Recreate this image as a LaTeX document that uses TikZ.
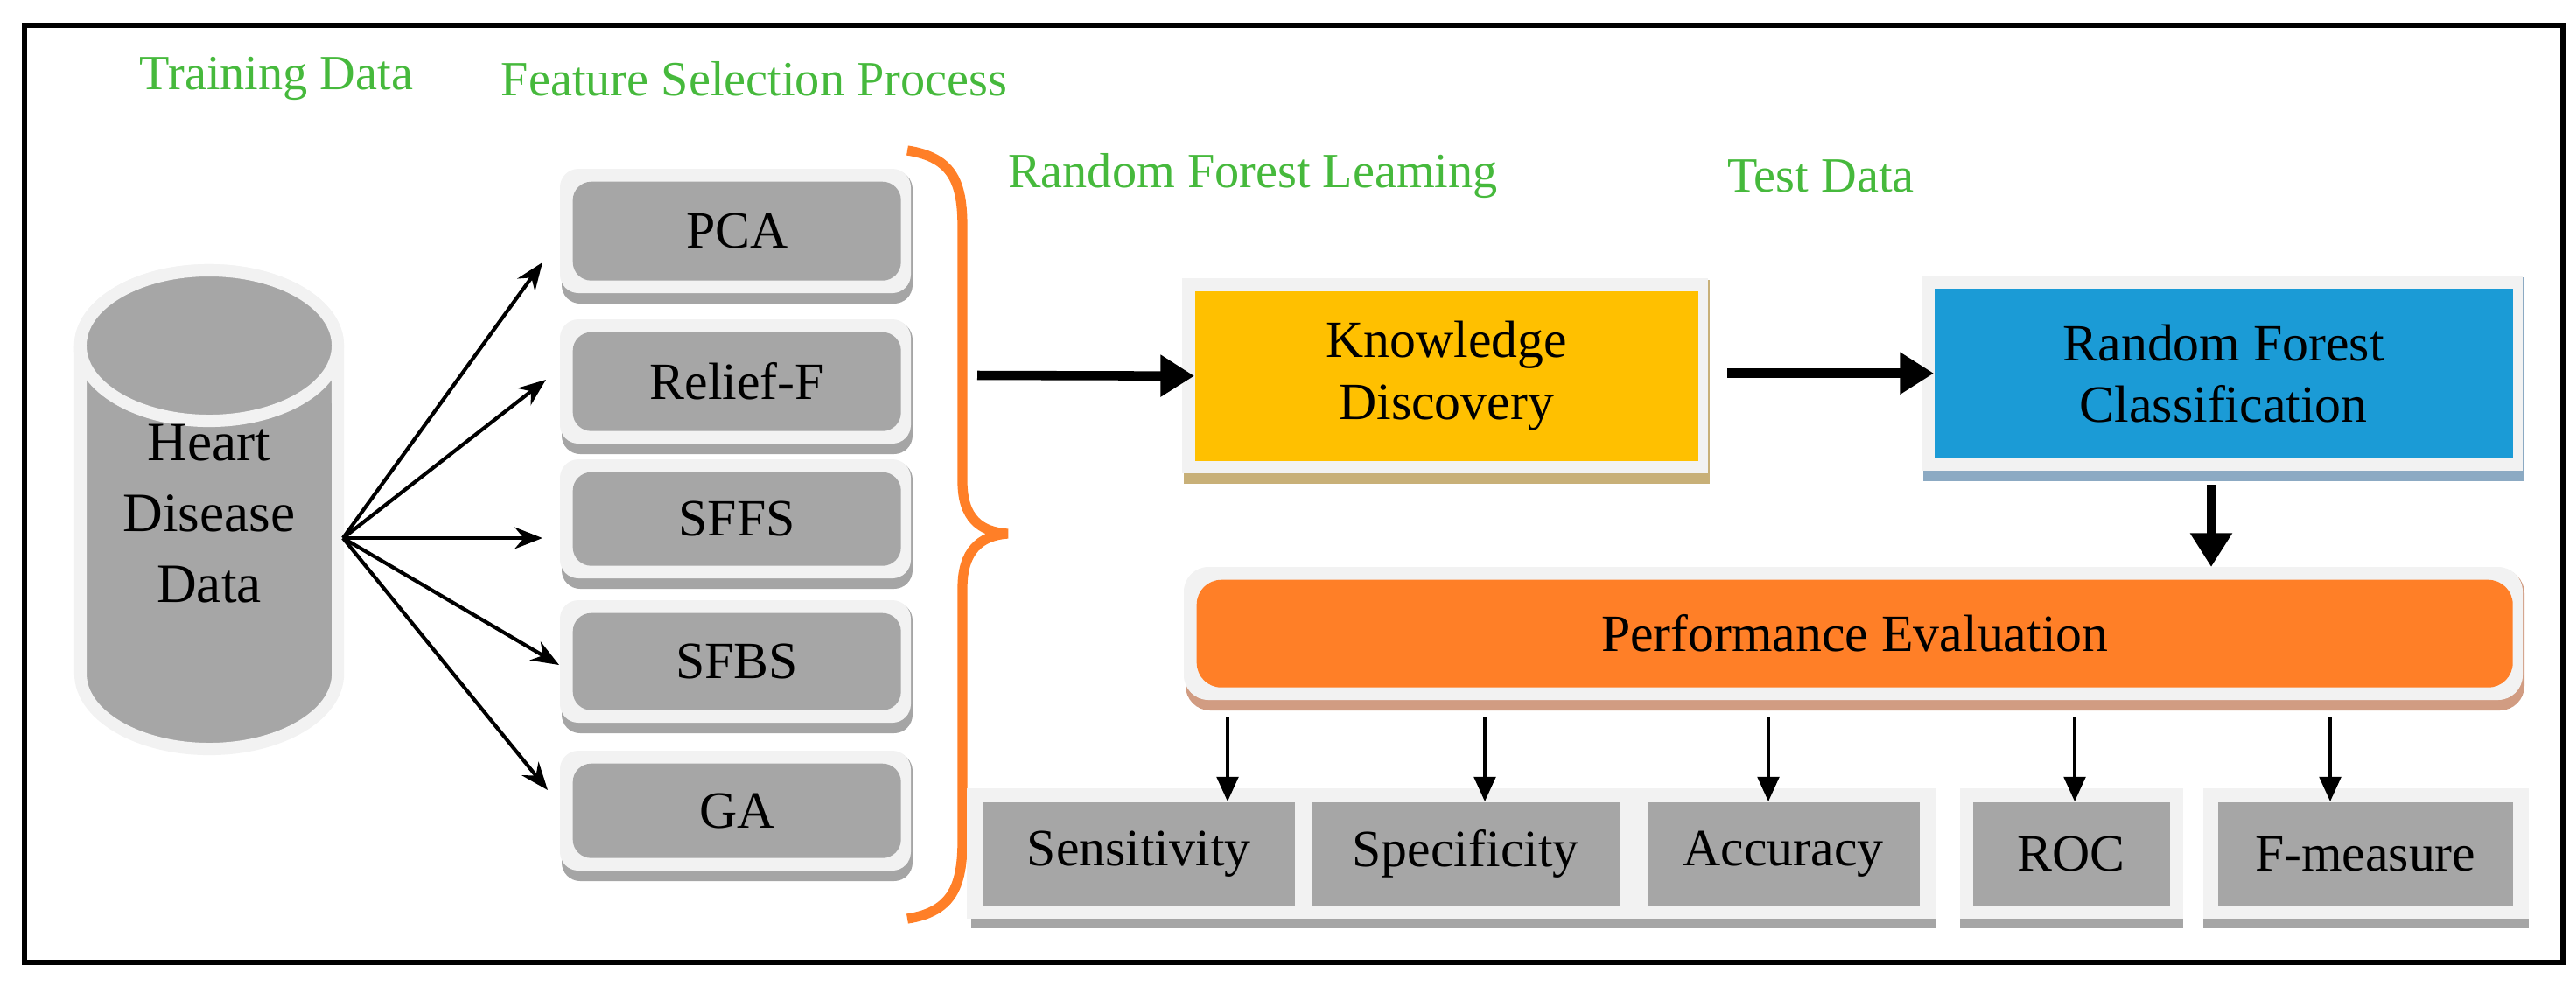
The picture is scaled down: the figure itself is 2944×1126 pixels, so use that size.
\documentclass[tikz,border=0pt]{standalone}
\usepackage{fontspec}
\setmainfont{Liberation Serif}
\usetikzlibrary{arrows.meta}
\definecolor{lbl}{RGB}{70,185,60}
\definecolor{boxg}{RGB}{166,166,166}
\definecolor{rim}{RGB}{242,242,242}
\definecolor{shg}{RGB}{165,165,165}
\definecolor{kdy}{RGB}{255,192,0}
\definecolor{kdsh}{RGB}{200,176,120}
\definecolor{rfb}{RGB}{27,155,214}
\definecolor{rfsh}{RGB}{140,170,195}
\definecolor{peo}{RGB}{255,127,39}
\definecolor{pesh}{RGB}{209,156,130}
\definecolor{brc}{RGB}{255,127,39}
\tikzset{
  lab/.style={text=lbl,font=\fontsize{16}{19}\selectfont,inner sep=0pt},
  txt/.style={font=\fontsize{17}{20}\selectfont,align=center,inner sep=0pt},
  thin arr/.style={-{Stealth[length=9pt,width=7pt]},line width=1.2pt},
  thick arr/.style={-{Triangle[length=11pt,width=13pt]},line width=3pt},
  small arr/.style={-{Triangle[length=8pt,width=7pt]},line width=1pt},
}
\newcommand{\mybox}[8]{% name, x1,y1,x2,y2, fill, shadow, corner radius
  \fill[#7,rounded corners=#8] (#2-12,#3-12) rectangle (#4+14,#5+27);
  \fill[rim,rounded corners=#8] (#2-14,#3-14) rectangle (#4+12,#5+15);
  \node[fill=#6,rounded corners=#8,minimum width={(#4-#2)*0.01cm},minimum height={(#5-#3)*0.01cm},inner sep=0pt,anchor=north west] (#1) at (#2,#3) {};
}
\begin{document}
\begin{tikzpicture}[x=0.01cm,y=-0.01cm]
\useasboundingbox (0,0) rectangle (2944,1126);
\draw[line width=1.5pt] (28,29) rectangle (2929,1100);
% labels
\node[lab] at (316,90) {Training Data};
\node[lab] at (862,90) {Feature Selection Process};
\node[lab] at (1432,201) {Random Forest Leaming};
\node[lab] at (2081,201) {Test Data};
% cylinder
\draw[rim,line width=4pt,fill=boxg] (92,395) -- (92,770) arc[start angle=180,end angle=360,x radius=1.47cm,y radius=0.86cm] -- (386,395) arc[start angle=0,end angle=180,x radius=1.47cm,y radius=0.86cm] -- cycle;
\draw[rim,line width=4pt,fill=boxg] (239,395) ellipse[x radius=1.47cm,y radius=0.86cm];
\node[txt,font=\fontsize{18}{23}\selectfont] (hd) at (239,587) {Heart\\Disease\\Data};
\coordinate (src) at (392,615);
% feature boxes
\mybox{pca}{654}{207}{1029}{320}{boxg}{shg}{6pt}
\mybox{rel}{654}{379}{1029}{492}{boxg}{shg}{6pt}
\mybox{sffs}{654}{539}{1029}{646}{boxg}{shg}{6pt}
\mybox{sfbs}{654}{700}{1029}{811}{boxg}{shg}{6pt}
\mybox{ga}{654}{872}{1029}{980}{boxg}{shg}{6pt}
\node[txt] at (pca) {PCA};
\node[txt] at (rel) {Relief-F};
\node[txt] at (sffs) {SFFS};
\node[txt] at (sfbs) {SFBS};
\node[txt] at (ga) {GA};
\coordinate (t1) at (620,300);
\coordinate (t2) at (624,434);
\coordinate (t3) at (620,615);
\coordinate (t4) at (639,760);
\coordinate (t5) at (626,903);
\foreach \t in {t1,t2,t3,t4,t5} \draw[thin arr] (src) -- (\t);
% brace
\draw[brc,line width=3.2pt] (1037,172) .. controls (1090,180) and (1100,210) .. (1100,260) -- (1100,550) .. controls (1100,592) and (1120,608) .. (1152,610) .. controls (1120,612) and (1100,630) .. (1100,672) -- (1100,960) .. controls (1100,1010) and (1090,1042) .. (1037,1050);
% main boxes
\mybox{kd}{1365}{332}{1940}{526}{kdy}{kdsh}{0pt}
\node[txt] at (kd) {Knowledge\\Discovery};
\mybox{rf}{2210}{329}{2871}{523}{rfb}{rfsh}{0pt}
\node[txt] at (rf) {Random Forest\\Classification};
\mybox{pe}{1367}{662}{2871}{785}{peo}{pesh}{8pt}
\node[txt] at (pe) {Performance Evaluation};
\coordinate (bs) at (1117,429);
\draw[thick arr] (bs) -- (kd.west);
\draw[thick arr] (kd.east) ++(33,-3) coordinate (k2) (k2) -- (rf.west);
\draw[thick arr] (2527,554) coordinate (r2) -- (2527,648);
% bottom boxes
\fill[shg] (1110,1034) rectangle (2212,1061);
\fill[rim] (1105,901) rectangle (2212,1050);
\fill[shg] (2240,1034) rectangle (2495,1061);
\fill[rim] (2240,901) rectangle (2495,1050);
\fill[shg] (2518,1034) rectangle (2890,1061);
\fill[rim] (2518,901) rectangle (2890,1050);
\foreach \n/\a/\b in {sen/1123/1479,spe/1498/1851,acc/1882/2193,roc/2254/2479,fme/2534/2871}
  \node[fill=boxg,minimum width={(\b-\a)*0.01cm},minimum height=1.18cm,inner sep=0pt,anchor=north west] (\n) at (\a,916) {};
\node[txt] at (sen) {Sensitivity};
\node[txt] at (spe) {Specificity};
\node[txt] at (acc) {Accuracy};
\node[txt] at (roc) {ROC};
\node[txt] at (fme) {F-measure};
\draw[small arr] (1403,819) -- (sen.north -| 1403,0);
\draw[small arr] (1697,819) -- (spe.north -| 1697,0);
\draw[small arr] (2021,819) -- (acc.north -| 2021,0);
\draw[small arr] (2371,819) -- (roc.north -| 2371,0);
\draw[small arr] (2663,819) -- (fme.north -| 2663,0);
\end{tikzpicture}
\end{document}
